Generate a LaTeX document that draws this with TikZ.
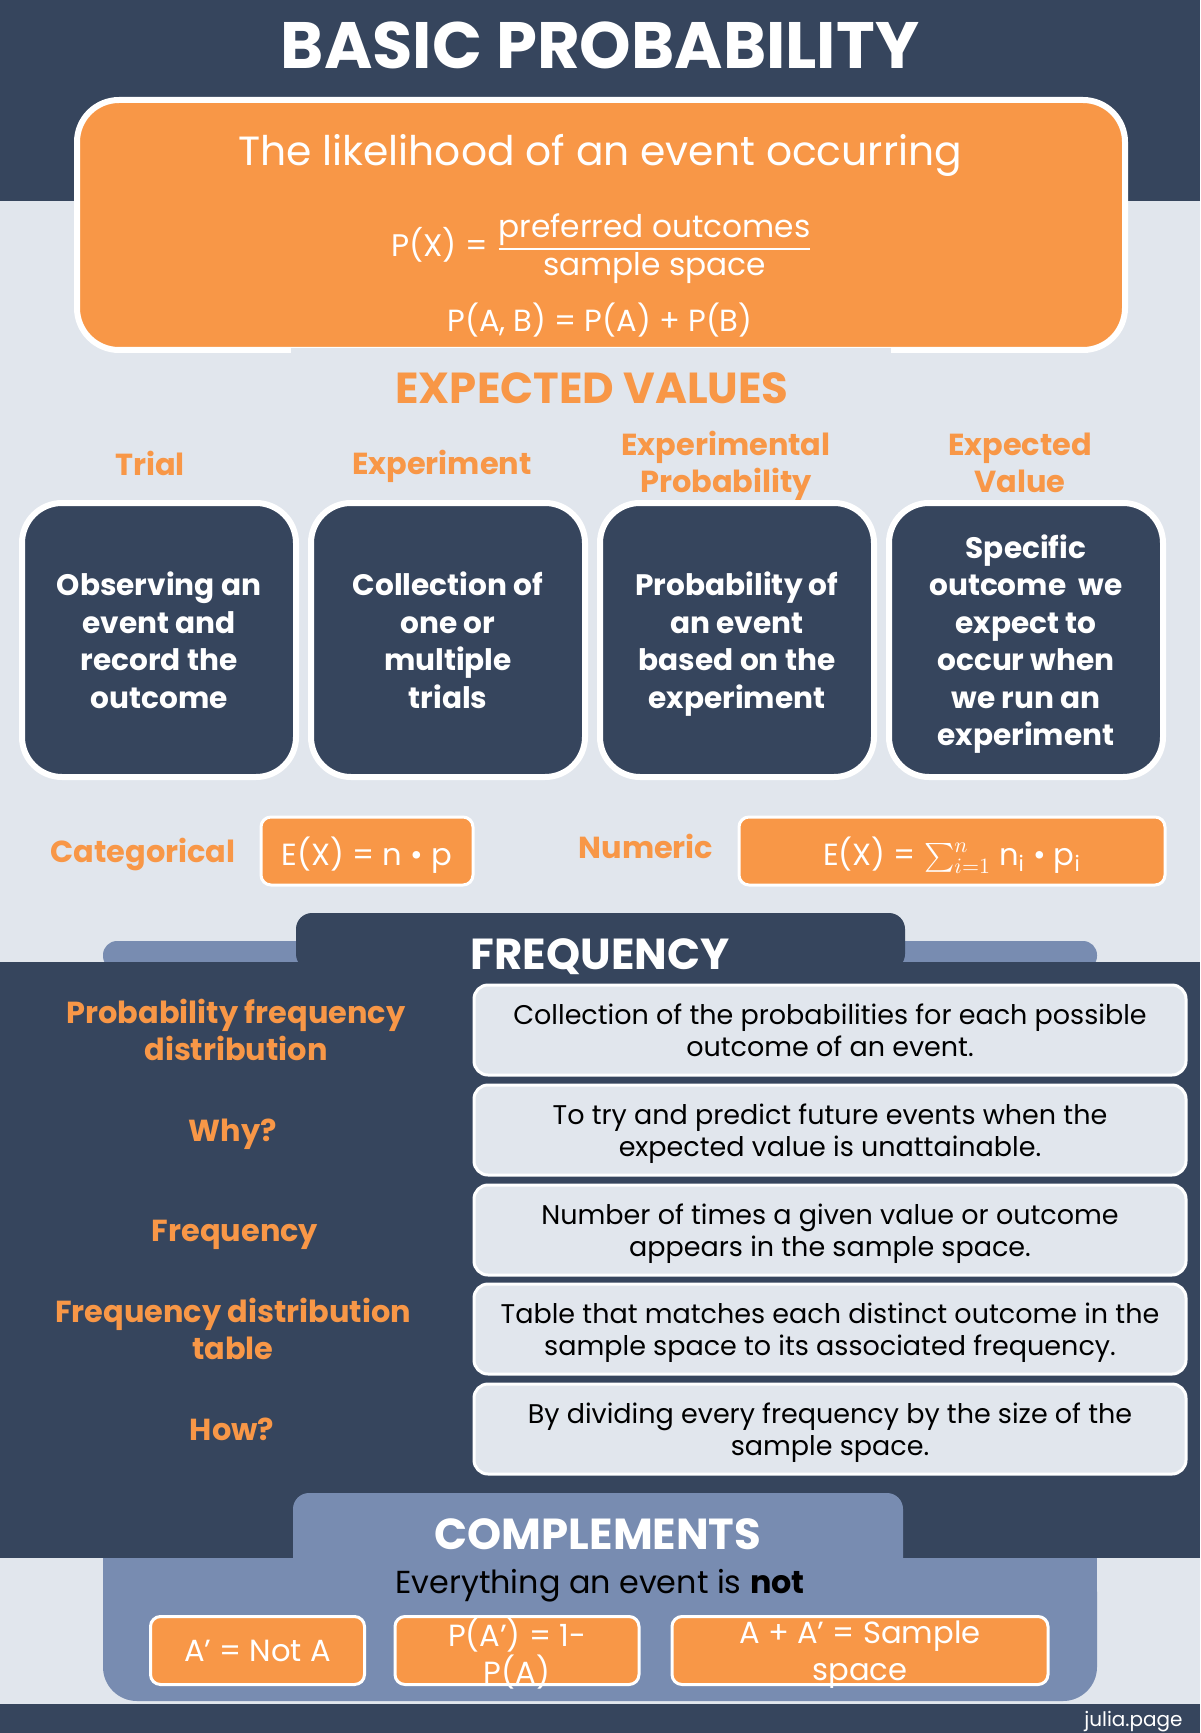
\documentclass[tikz,border=0pt]{standalone}
\usepackage{amsmath}
\usepackage{fontspec}
\setmainfont{Poppins}
\usepackage{tikz}
\usetikzlibrary{positioning, shapes}
\definecolor{slateblue}{HTML}{36455D}
\definecolor{paleblue}{HTML}{E1E6ED}
\definecolor{midblue}{HTML}{788CB1}
\definecolor{tangerine}{HTML}{F89747}
\tikzstyle{heading} = [text=white, font=\bfseries\fontsize{32.8}{36}\selectfont]
\tikzstyle{subhead} = [text=white, font=\bfseries\fontsize{21.7}{24}\selectfont]
\tikzstyle{orangehead} = [text=tangerine, align=center, font=\bfseries\fontsize{15.2}{18.6}\selectfont]
\tikzstyle{card} = [rectangle, draw=white, fill=slateblue, line width=3pt, rounded corners=20pt, minimum width=137pt, minimum height=137pt, inner sep=0pt, text depth=0pt, align=center, text=white, font=\bfseries\fontsize{14.8}{18.75}\selectfont]
\tikzstyle{formula} = [rectangle, draw=white, fill=tangerine, line width=1.5pt, rounded corners=5pt, minimum height=34pt, inner sep=0pt, text depth=0pt, align=center, text=white, font=\fontsize{15.3}{18.5}\selectfont]
\tikzstyle{answer} = [rectangle, draw=white, fill=paleblue, line width=1.5pt, rounded corners=7pt, minimum width=356pt, minimum height=45pt, inner sep=0pt, text depth=0pt, align=center, text=black, font=\fontsize{13.5}{16}\selectfont]

\begin{document}
\begin{tikzpicture}[x=0.5pt,y=-0.5pt]
                    \useasboundingbox (0,0) rectangle (1200,1733);
                    \fill[paleblue] (0,0) rectangle (1200,1733);
                    \fill[slateblue] (0,0) rectangle (1200,201);
                    \fill[slateblue] (0,1704) rectangle (1200,1733);

                    \node[heading](title) at (600,45) {BASIC PROBABILITY};
                    \node[rectangle, draw=white, fill=tangerine, line width=3pt, rounded corners=21pt, minimum width=524pt, minimum height=125pt](likelihood) at (601,225) {};
                    \fill[paleblue] (291,348) rectangle (891,356);
                    \node[text=white, font=\fontsize{20.4}{22}\selectfont](intro) at (600,155) {The likelihood of an event occurring};
                    \node[text=white, font=\fontsize{15.6}{18}\selectfont](ratio) at (602,249) {P(X) = $\genfrac{}{}{1.1pt}{1}{\mbox{preferred outcomes}}{\mbox{sample space}}$};
                    \node[text=white, font=\fontsize{15.3}{18}\selectfont](joint) at (600,320) {P(A, B) = P(A) + P(B)};

                    \node[text=tangerine, font=\bfseries\fontsize{21.7}{24}\selectfont](expected) at (592,388) {EXPECTED VALUES};
                    \node[orangehead](trial) at (150,463) {Trial};
                    \node[orangehead](experiment) at (442,466) {Experiment};
                    \node[orangehead](experimental) at (726,466) {Experimental\\Probability};
                    \node[orangehead](expectedvalue) at (1020,463) {Expected\\Value};

                    \node[card](c1) at (159,640) {Observing an\\event and\\record the\\outcome};
                    \node[card](c2) at (448,640) {Collection of\\one or\\multiple\\trials};
                    \node[card](c3) at (737,640) {Probability of\\an event\\based on the\\experiment};
                    \node[card](c4) at (1026,640) {Specific\\outcome\ \ we\\expect to\\occur when\\we run an\\experiment};

                    \node[orangehead](categorical) at (143,854) {Categorical};
                    \node[formula, minimum width=106pt](fcat) at (367,851) {E(X) = n • p};
                    \node[orangehead](numeric) at (646,846) {Numeric};
                    \node[formula, minimum width=213pt](fnum) at (952,851) {E(X) = $\sum_{i=1}^{n}$ n\textsubscript{i} • p\textsubscript{i}};

                    \fill[midblue, rounded corners=7pt] (103,970) -- (103,941) -- (1097,941) -- (1097,970) -- cycle;
                    \fill[slateblue, rounded corners=8pt] (296,970) -- (296,913) -- (905,913) -- (905,970) -- cycle;
                    \fill[slateblue] (0,962) rectangle (1200,1558);
                    \node[subhead](frequency) at (600,957) {FREQUENCY};

                    \node[orangehead](pfd) at (236,1030) {Probability frequency\\distribution};
                    \node[orangehead](why) at (233,1134) {Why?};
                    \node[orangehead](freq) at (235,1235) {Frequency};
                    \node[orangehead](fdt) at (233,1329) {Frequency distribution\\table};
                    \node[orangehead](how) at (232,1429) {How?};

                    \node[answer](a1) at (830,1030) {Collection of the probabilities for each possible\\outcome of an event.};
                    \node[answer](a2) at (830,1130) {To try and predict future events when the\\expected value is unattainable.};
                    \node[answer](a3) at (830,1230) {Number of times a given value or outcome\\appears in the sample space.};
                    \node[answer](a4) at (830,1329) {Table that matches each distinct outcome in the\\sample space to its associated frequency.};
                    \node[answer](a5) at (830,1429) {By dividing every frequency by the size of the\\sample space.};

                    \fill[midblue, rounded corners=8pt] (293,1600) -- (293,1493) -- (903,1493) -- (903,1600) -- cycle;
                    \fill[midblue, rounded corners=17pt] (103,1558) -- (1097,1558) -- (1097,1701) -- (103,1701) -- cycle;
                    \fill[midblue] (103,1558) rectangle (1097,1590);
                    \node[subhead](complements) at (598,1534) {COMPLEMENTS};
                    \node[text=black, font=\fontsize{15.9}{18}\selectfont](everything) at (600,1586) {Everything an event is \textbf{not}};

                    \node[formula, minimum width=107pt](b1) at (257.5,1650.5) {A’ = Not A};
                    \node[formula, minimum width=122pt](b2) at (517,1650.5) {P(A’) = 1-\\P(A)};
                    \node[formula, minimum width=188pt](b3) at (860,1650.5) {A + A’ = Sample\\space};

                    \node[text=white, anchor=east, inner sep=0pt, font=\fontsize{10}{11}\selectfont](site) at (1183,1722) {julia.page};
\end{tikzpicture}
\end{document}
